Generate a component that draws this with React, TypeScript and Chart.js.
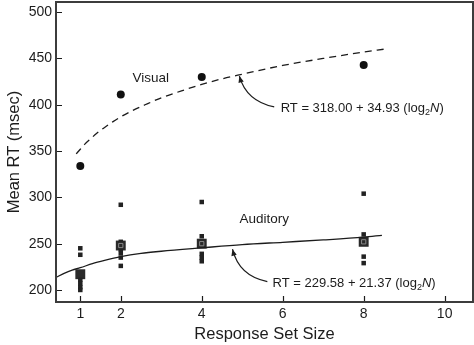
import React, { useEffect, useRef } from "react";
import { Chart, registerables } from "chart.js";

Chart.register(...registerables);

// ---- data ----
const setSizes = [1, 2, 4, 8];
const visualMeans = [334, 411, 430, 443];
const auditoryMeans = [217, 248, 250, 252];
const auditorySubjectsN1 = [245, 238, 211, 207, 203, 200];
const auditorySubjectsN2 = [292, 252, 244, 240, 235, 226];
const auditorySubjectsN4 = [295, 258, 239, 235, 231];
const auditorySubjectsN8 = [304, 260, 236, 229];

const visualFitX = [0.9, 1, 1.1, 1.25, 1.4, 1.6, 1.8, 2, 2.3, 2.6, 3, 3.5, 4, 4.5, 5, 6, 7, 8, 8.5];
const visualFitY = [347, 352, 357, 363, 369, 375.5, 381.5, 387, 394, 400, 407.5, 415, 422, 428, 433, 442.5, 450, 457, 460];

const auditoryFitX = [0.42, 0.6, 0.8, 1, 1.3, 1.6, 2, 2.5, 3, 4, 5, 6, 7, 8, 8.45];
const auditoryFitY = [214, 218, 221.5, 224, 228.5, 232, 236, 239.5, 241.8, 245.5, 249, 251.5, 254, 257, 259];

const xTicks = [1, 2, 4, 6, 8, 10];
const yTicks = [200, 250, 300, 350, 400, 450, 500];

const visualLabel = "Visual";
const auditoryLabel = "Auditory";
const visualEquation = ["RT = 318.00 + 34.93 (log", "2", "N", ")"];
const auditoryEquation = ["RT = 229.58 + 21.37 (log", "2", "N", ")"];

const FONT = "'Liberation Sans', Arial, Helvetica, sans-serif";
const INK = "#1c1c1c";
const meanInnerOutline = ["rgba(0,0,0,0)", "#8a8a8a", "#8a8a8a", "#8a8a8a"];

const pairs = (xs: number[], ys: number[]) => xs.map((x, i) => ({ x, y: ys[i] }));
const subjectPoints = [
  ...auditorySubjectsN1.map((y) => ({ x: setSizes[0], y })),
  ...auditorySubjectsN2.map((y) => ({ x: setSizes[1], y })),
  ...auditorySubjectsN4.map((y) => ({ x: setSizes[2], y })),
  ...auditorySubjectsN8.map((y) => ({ x: setSizes[3], y })),
];

function drawEquation(ctx: CanvasRenderingContext2D, parts: string[], px: number, py: number) {
  ctx.textBaseline = "middle";
  ctx.textAlign = "left";
  let cx = px;
  ctx.font = `13px ${FONT}`;
  ctx.fillText(parts[0], cx, py);
  cx += ctx.measureText(parts[0]).width;
  ctx.font = `9px ${FONT}`;
  ctx.fillText(parts[1], cx, py + 4);
  cx += ctx.measureText(parts[1]).width;
  ctx.font = `italic 13px ${FONT}`;
  ctx.fillText(parts[2], cx, py);
  cx += ctx.measureText(parts[2]).width;
  ctx.font = `13px ${FONT}`;
  ctx.fillText(parts[3], cx, py);
}

function drawArrow(ctx: CanvasRenderingContext2D, sx: number, sy: number, cx: number, cy: number, ex: number, ey: number) {
  ctx.beginPath();
  ctx.moveTo(sx, sy);
  ctx.quadraticCurveTo(cx, cy, ex, ey);
  ctx.lineWidth = 1.2;
  ctx.stroke();
  const ang = Math.atan2(ey - cy, ex - cx);
  const len = 7;
  const spread = 0.4;
  ctx.beginPath();
  ctx.moveTo(ex, ey);
  ctx.lineTo(ex - len * Math.cos(ang - spread), ey - len * Math.sin(ang - spread));
  ctx.lineTo(ex - len * Math.cos(ang + spread), ey - len * Math.sin(ang + spread));
  ctx.closePath();
  ctx.fill();
}

const decorPlugin = {
  id: "decor",
  afterDatasetsDraw(chart: any) {
    const { ctx, chartArea } = chart;
    const x = chart.scales.x;
    const y = chart.scales.y;
    ctx.save();
    ctx.strokeStyle = INK;
    ctx.fillStyle = INK;
    // inner tick marks
    ctx.lineWidth = 1.2;
    ctx.beginPath();
    for (const t of yTicks) {
      const py = Math.round(y.getPixelForValue(t)) + 0.5;
      ctx.moveTo(chartArea.left, py);
      ctx.lineTo(chartArea.left + 6, py);
    }
    for (const t of xTicks) {
      const px = Math.round(x.getPixelForValue(t)) + 0.5;
      ctx.moveTo(px, chartArea.bottom);
      ctx.lineTo(px, chartArea.bottom - 6);
    }
    ctx.stroke();
    // frame
    ctx.strokeStyle = "#3c3c3c";
    ctx.lineWidth = 2;
    ctx.strokeRect(chartArea.left, chartArea.top, chartArea.right - chartArea.left, chartArea.bottom - chartArea.top);

    // labels
    ctx.fillStyle = INK;
    ctx.strokeStyle = INK;
    ctx.font = `13.5px ${FONT}`;
    ctx.textBaseline = "middle";
    ctx.textAlign = "left";
    ctx.fillText(visualLabel, x.getPixelForValue(2.29), y.getPixelForValue(428.5));
    ctx.fillText(auditoryLabel, x.getPixelForValue(4.93), y.getPixelForValue(276.3));

    drawEquation(ctx, visualEquation, x.getPixelForValue(5.95), y.getPixelForValue(396.3));
    drawEquation(ctx, auditoryEquation, x.getPixelForValue(5.75), y.getPixelForValue(207.2));

    drawArrow(
      ctx,
      x.getPixelForValue(5.79), y.getPixelForValue(397.7),
      x.getPixelForValue(5.1), y.getPixelForValue(404),
      x.getPixelForValue(4.93), y.getPixelForValue(431)
    );
    drawArrow(
      ctx,
      x.getPixelForValue(5.62), y.getPixelForValue(209),
      x.getPixelForValue(4.92), y.getPixelForValue(215),
      x.getPixelForValue(4.76), y.getPixelForValue(244)
    );
    ctx.restore();
  },
};

export default function App() {
  const canvasRef = useRef<HTMLCanvasElement | null>(null);

  useEffect(() => {
    if (!canvasRef.current) return;
    const chart = new Chart(canvasRef.current, {
      type: "scatter",
      data: {
        datasets: [
          {
            data: pairs(setSizes, auditoryMeans),
            pointStyle: "rect",
            pointRadius: 3,
            backgroundColor: "rgba(0,0,0,0)",
            borderColor: meanInnerOutline,
            borderWidth: 1,
            order: -1,
          } as any,
          {
            type: "line",
            data: pairs(visualFitX, visualFitY),
            borderColor: INK,
            borderWidth: 1.3,
            borderDash: [7, 5],
            pointRadius: 0,
            cubicInterpolationMode: "monotone",
            fill: false,
          } as any,
          {
            type: "line",
            data: pairs(auditoryFitX, auditoryFitY),
            borderColor: INK,
            borderWidth: 1.3,
            pointRadius: 0,
            cubicInterpolationMode: "monotone",
            fill: false,
          } as any,
          {
            data: pairs(setSizes, visualMeans),
            pointStyle: "circle",
            pointRadius: 4,
            backgroundColor: "#111",
            borderColor: "#111",
            borderWidth: 0,
          },
          {
            data: subjectPoints,
            pointStyle: "rect",
            pointRadius: 3.2,
            backgroundColor: "#222",
            borderColor: "#222",
            borderWidth: 0,
          },
          {
            data: pairs(setSizes, auditoryMeans),
            pointStyle: "rect",
            pointRadius: 7,
            backgroundColor: "#2a2a2a",
            borderColor: "#2a2a2a",
            borderWidth: 0,
          },
        ],
      },
      options: {
        responsive: false,
        animation: false,
        devicePixelRatio: 1,
        layout: { autoPadding: false, padding: { top: 2, right: 1, left: 0, bottom: 0 } },
        plugins: { legend: { display: false }, tooltip: { enabled: false } },
        scales: {
          x: {
            type: "linear",
            min: 0.4,
            max: 10.7,
            grid: { display: false, drawTicks: false },
            border: { display: false },
            afterBuildTicks: (scale: any) => {
              scale.ticks = xTicks.map((v) => ({ value: v }));
            },
            afterFit: (scale: any) => {
              scale.height = 43;
              scale.paddingLeft = 0;
              scale.paddingRight = 0;
            },
            ticks: {
              color: INK,
              padding: 4,
              font: { family: FONT, size: 14 },
              maxRotation: 0,
              autoSkip: false,
            },
            title: {
              display: true,
              text: "Response Set Size",
              color: INK,
              font: { family: FONT, size: 16.5 },
              padding: { top: 0, bottom: 1 },
            },
          },
          y: {
            type: "linear",
            min: 187,
            max: 511,
            grid: { display: false, drawTicks: false },
            border: { display: false },
            afterBuildTicks: (scale: any) => {
              scale.ticks = yTicks.map((v) => ({ value: v }));
            },
            afterFit: (scale: any) => {
              scale.width = 56;
              scale.paddingTop = 0;
              scale.paddingBottom = 0;
            },
            ticks: {
              color: INK,
              padding: 4,
              font: { family: FONT, size: 14 },
              autoSkip: false,
            },
            title: {
              display: true,
              text: "Mean RT (msec)",
              color: INK,
              font: { family: FONT, size: 16.5 },
              padding: { top: 5, bottom: 0 },
            },
          },
        },
      },
      plugins: [decorPlugin],
    });
    return () => chart.destroy();
  }, []);

  return (
    <div style={{ position: "absolute", left: 0, top: 0, width: 474, height: 345, background: "#fff" }}>
      <canvas ref={canvasRef} width={474} height={345} />
    </div>
  );
}
